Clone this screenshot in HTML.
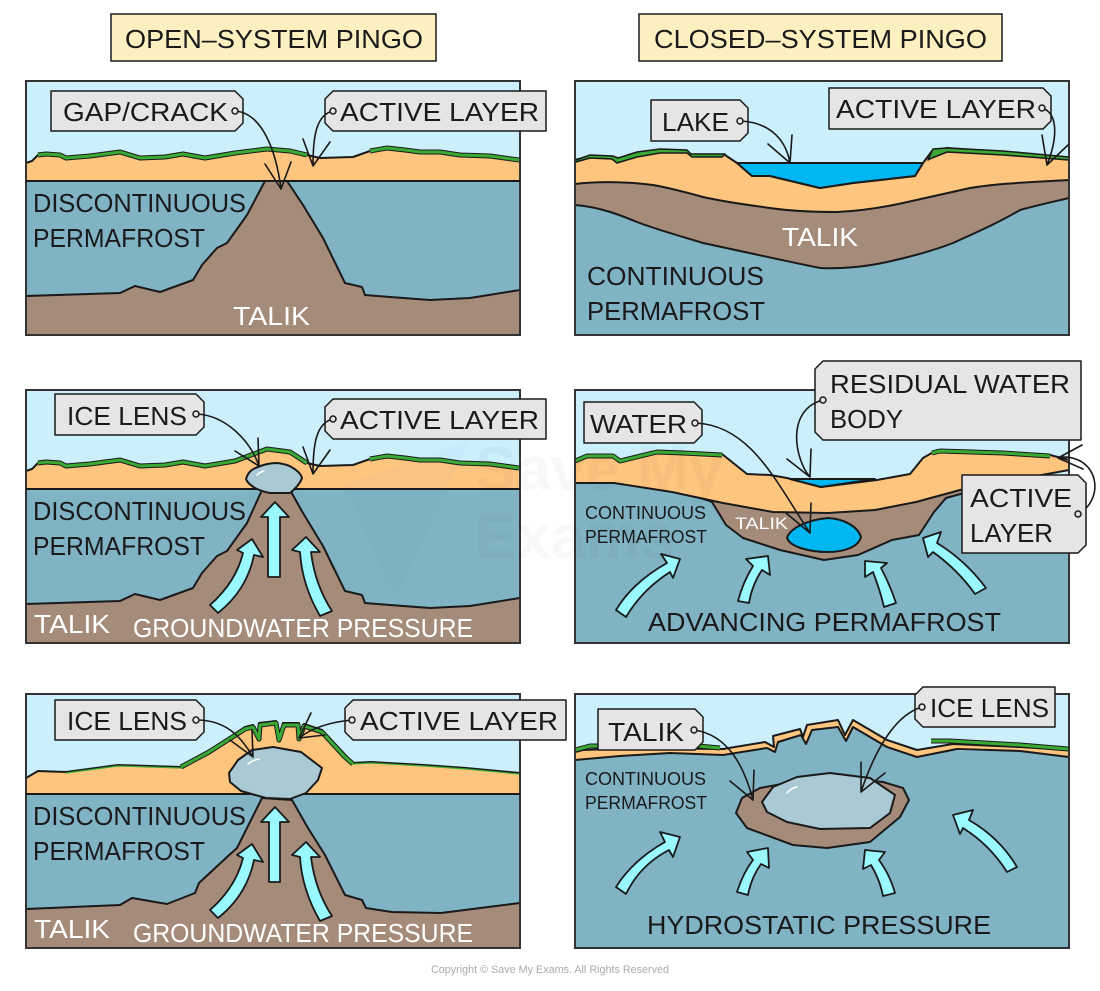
<!DOCTYPE html>
<html><head><meta charset="utf-8"><style>
html,body{margin:0;padding:0;background:#fff}
svg{display:block}
text{font-family:"Liberation Sans",sans-serif;font-size:26px;fill:#1a1a1a}
.w{fill:#fff}
.s{font-size:18px}
.p{fill:#80b3c4}
.sky{fill:#cceffc}
.o{fill:#fec57f;stroke:#1a1a1a;stroke-width:2;stroke-linejoin:round}
.t{fill:#a48b7a;stroke:#1a1a1a;stroke-width:2;stroke-linejoin:round}
.ice{fill:#a9c9d4;stroke:#1a1a1a;stroke-width:2;stroke-linejoin:round}
.wat{fill:#00b7f1;stroke:#1a1a1a;stroke-width:2;stroke-linejoin:round}
.f{fill:none;stroke:#333;stroke-width:2}
.gd{fill:none;stroke:#1a1a1a;stroke-width:5;stroke-linejoin:round}
.gg{fill:none;stroke:#3aaa35;stroke-width:3;stroke-linejoin:round}
.gt{fill:none;stroke:#3aaa35;stroke-width:1.2;stroke-linejoin:round}
.gp{fill:#3aaa35;stroke:#1a1a1a;stroke-width:1.5;stroke-linejoin:round}
.lb{fill:#e5e5e5;stroke:#1a1a1a;stroke-width:1.5;stroke-linejoin:round}
.ln{fill:none;stroke:#1a1a1a;stroke-width:1.6;stroke-linecap:round;stroke-linejoin:round}
.c{fill:#e5e5e5;stroke:#1a1a1a;stroke-width:1.5}
.a{fill:#99f9ff;stroke:#1a1a1a;stroke-width:1.8;stroke-linejoin:round}
.h{fill:none;stroke:#fff;stroke-width:1.5;stroke-linecap:round}
.tt{fill:#fdf0c0;stroke:#1a1a1a;stroke-width:1.5}
</style></head><body>
<svg width="1100" height="991" viewBox="0 0 1100 991" xmlns="http://www.w3.org/2000/svg">
<rect width="1100" height="991" fill="#fff"/>

<!-- titles -->
<rect class="tt" x="111" y="14" width="325" height="47"/>
<text x="125" y="48" textLength="298" lengthAdjust="spacingAndGlyphs">OPEN–SYSTEM PINGO</text>
<rect class="tt" x="639" y="14" width="363" height="47"/>
<text x="654" y="48" textLength="333" lengthAdjust="spacingAndGlyphs">CLOSED–SYSTEM PINGO</text>

<!-- PANEL 1 -->
<rect class="sky" x="26" y="81" width="494" height="100"/>
<rect class="p" x="26" y="181" width="494" height="154"/>
<polygon class="o" points="26,181 26,163 32,161 38,155 46,154 60,155 66,158 90,156 120,152 130,155 140,158 165,157 183,154 205,158 235,153 267,149 290,151 307,155 320,158 353,157 370,151 387,148 405,150 420,152 440,152 460,155 490,156 520,160 520,181"/>
<polyline class="gd" points="38,155 46,154 60,155 66,158 90,156 120,152 130,155 140,158 165,157 183,154 205,158 235,153 267,149 290,151 307,155"/>
<polyline class="gg" points="38,155 46,154 60,155 66,158 90,156 120,152 130,155 140,158 165,157 183,154 205,158 235,153 267,149 290,151 307,155"/>
<polyline class="gd" points="370,151 387,148 405,150 420,152 440,152 460,155 490,156 519,160"/>
<polyline class="gg" points="370,151 387,148 405,150 420,152 440,152 460,155 490,156 519,160"/>
<polygon class="t" points="26,296 120,293 135,286 160,292 193,280 202,265 217,248 227,243 247,215 265,181 287,181 303,205 323,238 345,283 362,287 365,295 390,297 430,300 470,298 520,290 520,335 26,335"/>
<rect class="f" x="26" y="81" width="494" height="254"/>
<line x1="26" y1="181" x2="520" y2="181" stroke="#1a1a1a" stroke-width="2"/>
<path class="lb" d="M51,91 H235 L243,99 V123 L235,131 H51 Z"/>
<text x="63" y="121" textLength="165" lengthAdjust="spacingAndGlyphs">GAP/CRACK</text>
<path class="ln" d="M235,111 C262,113 276,150 281,189 M265,164 L281,189 L291,162"/>
<circle class="c" cx="235" cy="111" r="3"/>
<path class="lb" d="M333,91 H546 V131 H333 L325,123 V99 Z"/>
<text x="340" y="121" textLength="199" lengthAdjust="spacingAndGlyphs">ACTIVE LAYER</text>
<path class="ln" d="M333,111 C315,115 313,140 313,166 M303,139 L313,166 L330,142"/>
<circle class="c" cx="333" cy="111" r="3"/>
<text x="33" y="212" textLength="213" lengthAdjust="spacingAndGlyphs">DISCONTINUOUS</text>
<text x="33" y="247" textLength="172" lengthAdjust="spacingAndGlyphs">PERMAFROST</text>
<text class="w" x="233" y="325" textLength="77" lengthAdjust="spacingAndGlyphs">TALIK</text>

<!-- PANEL 2 -->
<rect class="sky" x="26" y="390" width="494" height="99"/>
<rect class="p" x="26" y="489" width="494" height="154"/>
<polygon class="o" points="26,489 26,471 32,469 38,463 46,462 60,463 66,466 90,464 120,460 130,463 140,466 165,465 183,462 205,466 235,461 267,449 290,452 307,463 320,466 353,465 370,459 387,456 405,458 420,460 440,460 460,463 490,464 520,468 520,489"/>
<polyline class="gd" points="38,463 46,462 60,463 66,466 90,464 120,460 130,463 140,466 165,465 183,462 205,466 235,461 267,449 290,452 307,463"/>
<polyline class="gg" points="38,463 46,462 60,463 66,466 90,464 120,460 130,463 140,466 165,465 183,462 205,466 235,461 267,449 290,452 307,463"/>
<polyline class="gd" points="370,459 387,456 405,458 420,460 440,460 460,463 490,464 519,468"/>
<polyline class="gg" points="370,459 387,456 405,458 420,460 440,460 460,463 490,464 519,468"/>
<polygon class="t" points="26,604 120,601 135,594 160,600 193,588 202,573 217,556 227,551 247,523 262,490 290,490 303,513 323,546 345,591 362,595 365,603 390,605 430,608 470,606 520,598 520,643 26,643"/>
<rect class="f" x="26" y="390" width="494" height="253"/>
<line x1="26" y1="489" x2="255" y2="489" stroke="#1a1a1a" stroke-width="2"/>
<line x1="295" y1="489" x2="520" y2="489" stroke="#1a1a1a" stroke-width="2"/>
<path class="ice" d="M246,479 C248,472 252,469 258,467 C265,464 271,463 277,463 C284,464 289,465 293,468 C298,471 301,474 302,478 C300,484 295,489 290,493 L270,493 C264,492 259,490 255,488 C250,485 247,482 246,479 Z"/>
<path class="h" d="M257,475 Q260,472 264,471"/>
<path class="a" d="M268,577 V517 H261 L275,502 L289,517 H280 V577 Z"/>
<path class="a" d="M210,605 Q236,582 243,553 L237,550 L252,539 L263,557 L254,555 Q247,590 218,613 Z"/>
<path class="a" d="M320,616 Q302,585 300,552 L292,550 L306,537 L320,552 L311,552 Q315,585 332,611 Z"/>
<path class="lb" d="M55,394 H196 L204,402 V427 L196,435 H55 Z"/>
<text x="67" y="425" textLength="120" lengthAdjust="spacingAndGlyphs">ICE LENS</text>
<path class="ln" d="M196,414 C225,415 250,440 259,466 M235,451 L259,466 L258,438"/>
<circle class="c" cx="196" cy="414" r="3"/>
<path class="lb" d="M333,399 H546 V439 H333 L325,431 V407 Z"/>
<text x="340" y="429" textLength="199" lengthAdjust="spacingAndGlyphs">ACTIVE LAYER</text>
<path class="ln" d="M333,419 C315,423 313,448 313,474 M303,447 L313,474 L330,450"/>
<circle class="c" cx="333" cy="419" r="3"/>
<text x="33" y="520" textLength="213" lengthAdjust="spacingAndGlyphs">DISCONTINUOUS</text>
<text x="33" y="555" textLength="172" lengthAdjust="spacingAndGlyphs">PERMAFROST</text>
<text class="w" x="34" y="633" textLength="76" lengthAdjust="spacingAndGlyphs">TALIK</text>
<text class="w" x="133" y="637" textLength="340" lengthAdjust="spacingAndGlyphs">GROUNDWATER PRESSURE</text>

<!-- PANEL 3 -->
<rect class="sky" x="26" y="694" width="494" height="100"/>
<rect class="p" x="26" y="794" width="494" height="154"/>
<polygon class="o" points="26,794 26,778 38,771 66,772 118,765 181,767 209,752 245,727 253,725 259,737 259,723 276,721 279,738 283,723 299,723 299,737 304,724 322,730 353,763 371,762 424,765 466,768 520,773 520,794"/>
<polyline class="gd" points="181,767 209,752 245,729 253,727 259,739 260,725 276,723 279,740 284,725 298,725 299,739 304,726 322,732 345,757 353,764"/>
<polyline class="gg" points="181,767 209,752 245,729 253,727 259,739 260,725 276,723 279,740 284,725 298,725 299,739 304,726 322,732 345,757 353,764"/>
<polyline class="gt" points="353,764 371,763 424,766 466,769 519,774"/>
<polyline class="gt" points="66,773 118,766 181,768"/>
<polygon class="t" points="26,909 120,905 132,898 167,904 195,893 199,883 227,857 237,848 262,798 292,800 308,828 325,855 345,895 362,900 366,908 392,912 441,913 520,903 520,948 26,948"/>
<rect class="f" x="26" y="694" width="494" height="254"/>
<line x1="26" y1="794" x2="240" y2="794" stroke="#1a1a1a" stroke-width="2"/>
<line x1="306" y1="794" x2="520" y2="794" stroke="#1a1a1a" stroke-width="2"/>
<polygon class="ice" points="229,773 238,760 252,750 273,747 301,752 322,768 318,780 306,793 290,799 266,798 241,791 230,782"/>
<path class="h" d="M248,764 Q253,760 259,759"/>
<path class="a" d="M269,882 V822 H261 L275,807 L289,822 H280 V882 Z"/>
<path class="a" d="M210,910 Q236,887 243,858 L237,855 L252,844 L263,862 L254,860 Q247,895 218,918 Z"/>
<path class="a" d="M320,921 Q302,890 300,857 L292,855 L306,842 L320,857 L311,857 Q315,890 332,916 Z"/>
<path class="lb" d="M55,700 H196 L204,708 V732 L196,740 H55 Z"/>
<text x="67" y="730" textLength="120" lengthAdjust="spacingAndGlyphs">ICE LENS</text>
<path class="ln" d="M196,720 C225,720 240,735 253,757 M230,740 L253,757 L252,730"/>
<circle class="c" cx="196" cy="720" r="3"/>
<path class="lb" d="M353,700 H566 V740 H353 L345,732 V708 Z"/>
<text x="360" y="730" textLength="198" lengthAdjust="spacingAndGlyphs">ACTIVE LAYER</text>
<path class="ln" d="M352,720 C330,722 312,728 299,738 M311,713 L299,738 L325,735"/>
<circle class="c" cx="352" cy="720" r="3"/>
<text x="33" y="825" textLength="213" lengthAdjust="spacingAndGlyphs">DISCONTINUOUS</text>
<text x="33" y="860" textLength="172" lengthAdjust="spacingAndGlyphs">PERMAFROST</text>
<text class="w" x="34" y="938" textLength="76" lengthAdjust="spacingAndGlyphs">TALIK</text>
<text class="w" x="133" y="942" textLength="340" lengthAdjust="spacingAndGlyphs">GROUNDWATER PRESSURE</text>

<!-- PANEL TR -->
<rect class="sky" x="575" y="81" width="494" height="100"/>
<rect class="p" x="575" y="181" width="494" height="154"/>
<path class="t" d="M575,180 L1069,180 V198 C1052,202 1038,205 1020,210 C1000,222 975,233 953,243 C930,252 905,258 887,262 C865,267 840,269 820,268 C790,262 745,252 703,243 C680,236 655,229 637,222 C620,215 600,207 575,205 Z"/>
<path class="o" d="M575,160 L590,156 L613,158 L617,162 L637,155 L660,151 L687,151 L692,155 L725,155 L737,163 L752,176 L770,176 L820,188 L853,183 L915,176 L923,163 L932,151 L947,148 L1003,152 L1069,158 V180 C1035,182 1000,183 970,188 C948,193 925,198 903,203 C880,208 860,211 837,212 C815,212 790,211 770,208 C748,205 725,202 703,197 C685,192 670,188 653,185 C632,182 600,181 575,184 Z"/>
<path class="wat" d="M737,163 H923 L915,176 L853,183 L820,188 L770,176 L752,176 Z"/>
<polygon class="gp" points="576,160 590,155 613,156 618,158 637,152 660,149 687,150 691,154 725,154 722,157 692,157 687,153 660,153 637,157 617,163 612,159 590,158 576,162"/>
<polygon class="gp" points="928,160 933,149 947,148 1003,151 1069,157 1069,160 1003,155 947,152 932,158"/>
<rect class="f" x="575" y="81" width="494" height="254"/>
<path class="lb" d="M651,100 H740 L748,108 V133 L740,141 H651 Z"/>
<text x="662" y="131" textLength="67" lengthAdjust="spacingAndGlyphs">LAKE</text>
<path class="ln" d="M740,121 C765,122 785,135 790,163 M768,144 L790,163 L792,135"/>
<circle class="c" cx="740" cy="121" r="3"/>
<path class="lb" d="M829,88 H1043 L1051,96 V121 L1043,129 H829 Z"/>
<text x="836" y="118" textLength="200" lengthAdjust="spacingAndGlyphs">ACTIVE LAYER</text>
<path class="ln" d="M1042,108 C1058,113 1058,137 1047,165 M1042,135 L1047,165 L1068,145"/>
<circle class="c" cx="1042" cy="108" r="3"/>
<text class="w" x="782" y="246" textLength="76" lengthAdjust="spacingAndGlyphs">TALIK</text>
<text x="587" y="285" textLength="177" lengthAdjust="spacingAndGlyphs">CONTINUOUS</text>
<text x="587" y="320" textLength="178" lengthAdjust="spacingAndGlyphs">PERMAFROST</text>

<!-- PANEL MR -->
<rect class="sky" x="575" y="390" width="494" height="100"/>
<rect class="p" x="575" y="483" width="494" height="160"/>
<path class="t" d="M575,483 L617,483 C650,487 690,493 712,502 L726,525 L743,538 L780,550 L824,560 L858,555 L892,540 L919,535 L934,512 L946,498 L975,490 L960,480 Z"/>
<path class="o" d="M575,460 L587,455 L613,455 L620,460 L657,451 L683,452 L722,454 L747,474 L770,475 L787,478 L821,487 L877,480 L910,474 L923,458 L937,450 L1003,452 L1050,455 L1069,460 V470 L960,490 L916,502 L875,510 L828,513 L773,512 L723,503 L672,492 L614,483 L575,483 Z"/>
<path class="wat" d="M790,479 H875 L821,487 Z"/>
<polyline class="gd" points="575,461 587,456 613,456 620,461 657,452 683,453 722,455"/>
<polyline class="gg" points="575,461 587,456 613,456 620,461 657,452 683,453 722,455"/>
<polyline class="gd" points="932,453 940,451 1003,453 1050,456"/>
<polyline class="gg" points="932,453 940,451 1003,453 1050,456"/>
<path class="wat" d="M787,538 C790,528 807,520 828,518 C845,519 858,527 861,537 C858,548 842,552 828,552 C810,552 790,547 787,538 Z"/>
<path class="a" d="M616,610 Q633,582 667,563 L661,554 L680,559 L673,578 L670,572 Q642,590 626,617 Z"/>
<path class="a" d="M738,601 Q743,582 753,566 L746,559 L768,556 L770,575 L762,570 Q752,585 749,603 Z"/>
<path class="a" d="M884,607 Q880,590 873,572 L865,577 L865,561 L887,563 L881,568 Q890,585 896,603 Z"/>
<path class="a" d="M975,594 Q958,570 933,552 L928,557 L923,538 L941,532 L937,543 Q965,560 986,588 Z"/>
<rect class="f" x="575" y="390" width="494" height="253"/>
<path class="lb" d="M584,402 H694 L702,410 V435 L694,443 H584 Z"/>
<text x="590" y="433" textLength="97" lengthAdjust="spacingAndGlyphs">WATER</text>
<path class="ln" d="M695,423 C750,425 775,480 810,533 M786,513 L810,533 L811,503"/>
<circle class="c" cx="695" cy="423" r="3"/>
<path class="lb" d="M823,361 H1081 V440 H823 L815,432 V369 Z"/>
<text x="830" y="393" textLength="240" lengthAdjust="spacingAndGlyphs">RESIDUAL WATER</text>
<text x="830" y="428" textLength="73" lengthAdjust="spacingAndGlyphs">BODY</text>
<path class="ln" d="M823,400 C785,410 795,460 810,477 M787,459 L810,477 L811,449"/>
<circle class="c" cx="823" cy="400" r="3"/>
<path class="ln" d="M1078,514 C1105,500 1100,455 1060,457 M1082,445 L1058,458 L1083,469"/>
<path class="lb" d="M962,475 H1078 L1086,483 V545 L1078,553 H962 Z"/>
<text x="970" y="507" textLength="102" lengthAdjust="spacingAndGlyphs">ACTIVE</text>
<text x="970" y="542" textLength="83" lengthAdjust="spacingAndGlyphs">LAYER</text>
<circle class="c" cx="1078" cy="514" r="3"/>
<text class="s" x="585" y="519" textLength="121" lengthAdjust="spacingAndGlyphs">CONTINUOUS</text>
<text class="s" x="585" y="543" textLength="122" lengthAdjust="spacingAndGlyphs">PERMAFROST</text>
<text class="w" style="font-size:17px" x="735" y="529" textLength="53" lengthAdjust="spacingAndGlyphs">TALIK</text>
<text x="648" y="631" textLength="353" lengthAdjust="spacingAndGlyphs">ADVANCING PERMAFROST</text>

<!-- PANEL BR -->
<rect class="sky" x="575" y="694" width="494" height="60"/>
<path class="p" d="M575,752 L723,749 L765,742 L774,747 L773,736 L800,729 L803,737 L807,725 L838,720 L845,735 L853,720 L887,740 L917,750 L1069,752 V948 H575 Z"/>
<path class="o" d="M575,752 L583,750 L637,748 L723,749 L765,742 L774,747 L773,736 L800,729 L803,737 L807,725 L838,720 L845,735 L853,720 L887,740 L917,750 L953,744 L1020,747 L1069,750 V757 L1020,751 L957,749 L917,757 L887,747 L853,727 L846,741 L838,727 L812,730 L806,744 L801,735 L778,742 L775,752 L767,748 L723,755 L670,753 L620,756 L575,760 Z"/>
<polyline class="gd" points="575,750 590,746 610,746"/>
<polyline class="gg" points="575,750 590,746 610,746"/>
<polyline class="gd" points="698,746 720,748"/>
<polyline class="gg" points="698,746 720,748"/>
<polyline class="gd" points="931,741 950,741 1020,745 1068,749"/>
<polyline class="gg" points="931,741 950,741 1020,745 1068,749"/>
<polygon class="t" points="736,813 742,798 760,788 787,783 830,777 883,782 903,788 909,800 900,817 870,842 827,848 793,845 747,828"/>
<polygon class="ice" points="762,802 773,787 797,777 830,773 870,778 895,795 890,813 870,828 820,829 787,822 767,812"/>
<path class="h" d="M787,793 Q791,788 797,787"/>
<path class="a" d="M616,887 Q633,860 665,842 L660,832 L680,837 L673,857 L669,850 Q640,865 626,894 Z"/>
<path class="a" d="M737,892 Q743,873 753,860 L747,852 L768,848 L769,868 L761,864 Q751,878 748,895 Z"/>
<path class="a" d="M883,896 Q880,880 871,865 L863,869 L865,850 L885,852 L879,860 Q890,875 895,893 Z"/>
<path class="a" d="M1007,872 Q990,845 963,828 L960,834 L953,815 L973,810 L969,820 Q1000,838 1017,867 Z"/>
<rect class="f" x="575" y="694" width="494" height="254"/>
<path class="lb" d="M598,709 H695 L703,717 V742 L695,750 H598 Z"/>
<text x="608" y="741" textLength="76" lengthAdjust="spacingAndGlyphs">TALIK</text>
<path class="ln" d="M694,730 C730,735 745,770 753,800 M730,781 L753,800 L754,770"/>
<circle class="c" cx="694" cy="730" r="3"/>
<path class="lb" d="M923,687 H1055 V727 H923 L915,719 V695 Z"/>
<text x="930" y="717" textLength="119" lengthAdjust="spacingAndGlyphs">ICE LENS</text>
<path class="ln" d="M922,707 C895,715 875,750 861,792 M861,762 L861,792 L885,773"/>
<circle class="c" cx="922" cy="707" r="3"/>
<text class="s" x="585" y="785" textLength="121" lengthAdjust="spacingAndGlyphs">CONTINUOUS</text>
<text class="s" x="585" y="809" textLength="122" lengthAdjust="spacingAndGlyphs">PERMAFROST</text>
<text x="647" y="934" textLength="344" lengthAdjust="spacingAndGlyphs">HYDROSTATIC PRESSURE</text>

<!-- watermark -->
<polygon points="345,485 470,440 395,600" fill="#3b8fd0" opacity="0.03"/>
<text x="475" y="490" style="font-size:62px;font-weight:bold;fill:#000" opacity="0.025">Save My</text>
<text x="475" y="558" style="font-size:62px;font-weight:bold;fill:#000" opacity="0.025">Exams</text>

<text x="431" y="973" textLength="238" lengthAdjust="spacingAndGlyphs" style="font-size:11px;fill:#aaa">Copyright © Save My Exams. All Rights Reserved</text>
</svg>
</body></html>
